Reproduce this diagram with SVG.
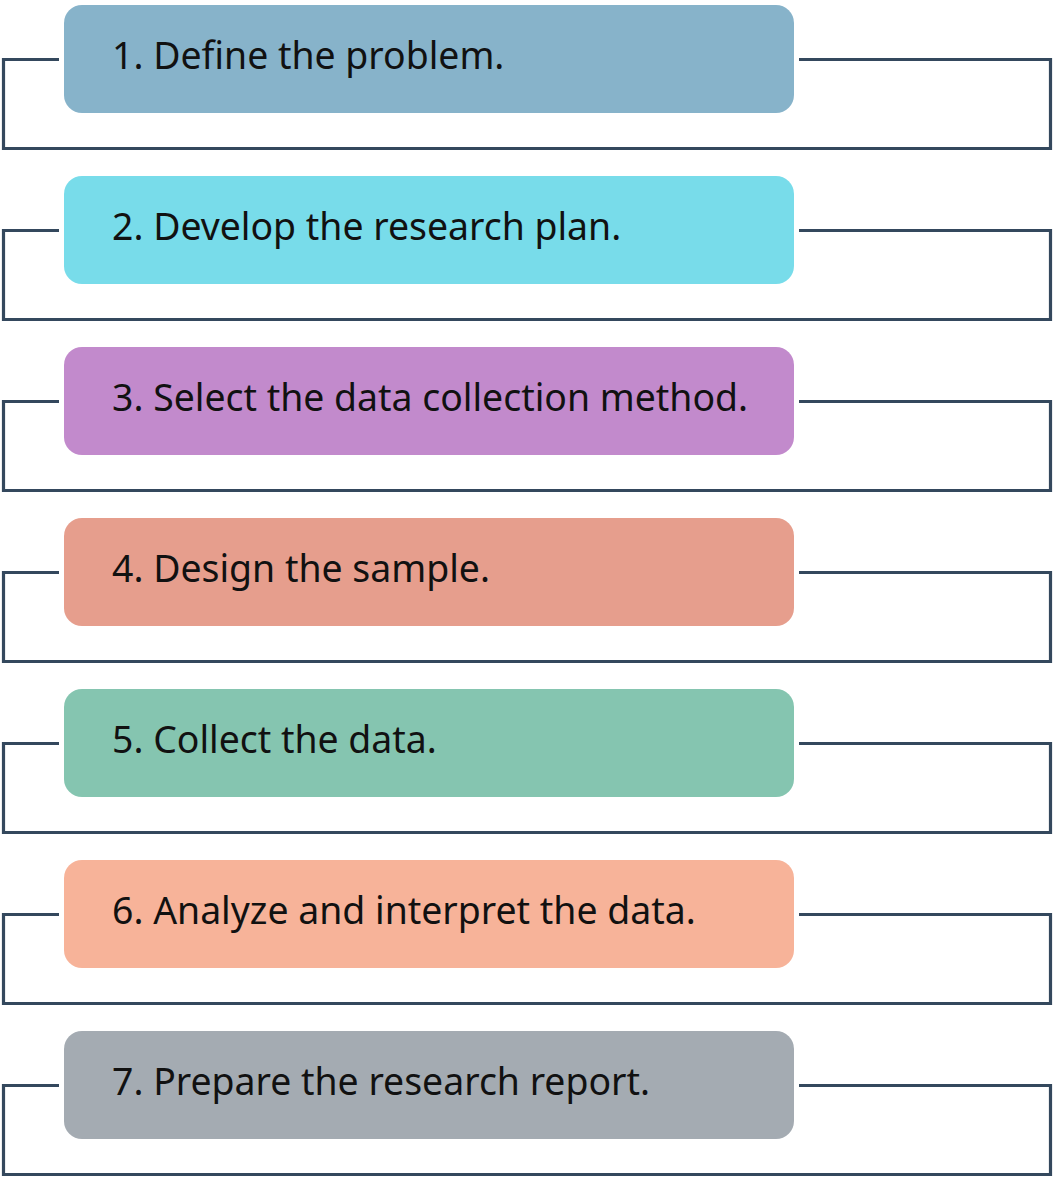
<svg xmlns="http://www.w3.org/2000/svg" width="1054" height="1177" viewBox="0 0 1054 1177">
<style>
.box{stroke:none}
.lbl{font-family:"Noto Sans","Open Sans","Liberation Sans",sans-serif;font-size:37.4px;fill:#111111}
.conn{fill:none;stroke:#34485d;stroke-width:3.2;stroke-linejoin:miter;stroke-linecap:butt}
</style>
<rect width="1054" height="1177" fill="#ffffff"/>
<g id="connectors">
<path class="conn" d="M59 59.5H3.5V148.5H1050.5V59.5H799"/>
<path class="conn" d="M59 230.5H3.5V319.5H1050.5V230.5H799"/>
<path class="conn" d="M59 401.5H3.5V490.5H1050.5V401.5H799"/>
<path class="conn" d="M59 572.5H3.5V661.5H1050.5V572.5H799"/>
<path class="conn" d="M59 743.5H3.5V832.5H1050.5V743.5H799"/>
<path class="conn" d="M59 914.5H3.5V1003.5H1050.5V914.5H799"/>
<path class="conn" d="M59 1085.5H3.5V1174.5H1050.5V1085.5H799"/>
</g>
<g id="step1"><rect class="box" x="64" y="5" width="730" height="108" rx="18" fill="#87b3ca"/><text class="lbl" x="112" y="68.5">1. Define the problem.</text></g>
<g id="step2"><rect class="box" x="64" y="176" width="730" height="108" rx="18" fill="#78dcea"/><text class="lbl" x="112" y="239.5">2. Develop the research plan.</text></g>
<g id="step3"><rect class="box" x="64" y="347" width="730" height="108" rx="18" fill="#c28acc"/><text class="lbl" x="112" y="410.5">3. Select the data collection method.</text></g>
<g id="step4"><rect class="box" x="64" y="518" width="730" height="108" rx="18" fill="#e69e8d"/><text class="lbl" x="112" y="581.5">4. Design the sample.</text></g>
<g id="step5"><rect class="box" x="64" y="689" width="730" height="108" rx="18" fill="#85c5b0"/><text class="lbl" x="112" y="752.5">5. Collect the data.</text></g>
<g id="step6"><rect class="box" x="64" y="860" width="730" height="108" rx="18" fill="#f7b399"/><text class="lbl" x="112" y="923.5">6. Analyze and interpret the data.</text></g>
<g id="step7"><rect class="box" x="64" y="1031" width="730" height="108" rx="18" fill="#a4abb2"/><text class="lbl" x="112" y="1094.5">7. Prepare the research report.</text></g>
</svg>
